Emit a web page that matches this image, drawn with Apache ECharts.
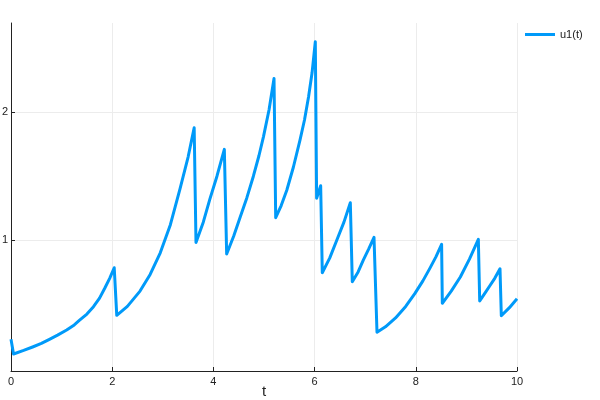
<!DOCTYPE html>
<html>
<head>
<meta charset="utf-8">
<script src="https://cdn.jsdelivr.net/npm/echarts@6/dist/echarts.min.js"></script>
<style>
    html, body { margin: 0; padding: 0; background: #fff; }
    #chart { width: 600px; height: 400px; }
</style>
</head>
<body>
<div id="chart"></div>
<script>

// Data
// ------------------------------

var seriesName = 'u1(t)';

var tValues = [
    0, 0.05, 0.25, 0.44, 0.60, 0.75, 0.92, 1.10, 1.25, 1.35, 1.50, 1.63, 1.75, 1.85, 1.95, 2.04,
    2.09, 2.30, 2.55, 2.75, 2.95, 3.15, 3.34, 3.50, 3.62,
    3.656, 3.80, 3.93, 4.07, 4.216,
    4.262, 4.40, 4.53, 4.66, 4.79, 4.90, 4.99, 5.10, 5.198,
    5.231, 5.34, 5.45, 5.58, 5.71, 5.80, 5.88, 5.95, 6.014,
    6.04, 6.12,
    6.152, 6.30, 6.44, 6.58, 6.706,
    6.745, 6.86, 6.96, 7.07, 7.174,
    7.233, 7.40, 7.60, 7.80, 7.98, 8.14, 8.28, 8.40, 8.51,
    8.524, 8.70, 8.88, 9.06, 9.236,
    9.263, 9.36, 9.46, 9.56, 9.664,
    9.69, 9.85, 10
];

var u1Values = [
    0.222, 0.107, 0.135, 0.164, 0.19, 0.22, 0.255, 0.295, 0.335, 0.37, 0.42, 0.478, 0.545, 0.62, 0.70, 0.783,
    0.41, 0.48, 0.60, 0.73, 0.90, 1.12, 1.40, 1.65, 1.88,
    0.98, 1.14, 1.32, 1.50, 1.71,
    0.89, 1.03, 1.18, 1.33, 1.50, 1.66, 1.81, 2.02, 2.266,
    1.175, 1.27, 1.39, 1.57, 1.78, 1.94, 2.12, 2.31, 2.553,
    1.327, 1.425,
    0.744, 0.86, 1.0, 1.14, 1.292,
    0.673, 0.75, 0.84, 0.93, 1.021,
    0.277, 0.32, 0.39, 0.48, 0.58, 0.68, 0.78, 0.87, 0.966,
    0.504, 0.60, 0.71, 0.85, 1.005,
    0.522, 0.58, 0.64, 0.70, 0.775,
    0.407, 0.47, 0.54
];

var xTicks = [0, 2, 4, 6, 8, 10];
var yTicks = [1, 2];


// Chart
// ------------------------------

var chartElement = document.getElementById('chart');
var chart = echarts.init(chartElement, null, { renderer: 'canvas' });

var points = tValues.map(function(t, i) {
    return [t, u1Values[i]];
});

chart.setOption({
    animation: false,
    color: ['#009af9'],
    textStyle: {
        fontFamily: 'Liberation Sans, Arial, sans-serif'
    },

    grid: {
        left: 11,
        right: 83,
        top: 23,
        bottom: 29,
        containLabel: false,
        outerBoundsMode: 'none'
    },

    legend: {
        data: [seriesName],
        left: 520,
        top: 24,
        icon: 'rect',
        itemWidth: 30,
        itemHeight: 3,
        itemGap: 5,
        textStyle: {
            fontSize: 11,
            color: '#222'
        }
    },

    xAxis: {
        type: 'value',
        min: 0,
        max: 10,
        interval: 2,
        name: 't',
        nameLocation: 'middle',
        nameGap: 13,
        nameMoveOverlap: false,
        nameTextStyle: {
            fontSize: 15,
            color: '#222'
        },
        axisLine: {
            show: true,
            onZero: false,
            lineStyle: { color: '#222', width: 1 }
        },
        axisTick: {
            show: true,
            inside: true,
            length: 4,
            lineStyle: { color: '#222' }
        },
        axisLabel: {
            fontSize: 11,
            color: '#222',
            margin: 5,
            customValues: xTicks
        },
        splitLine: {
            show: true,
            lineStyle: { color: '#ececec', width: 1 }
        }
    },

    yAxis: {
        type: 'value',
        min: -0.026,
        max: 2.70,
        axisLine: {
            show: true,
            onZero: false,
            lineStyle: { color: '#222', width: 1 }
        },
        axisTick: {
            show: true,
            inside: true,
            length: 4,
            lineStyle: { color: '#222' },
            customValues: yTicks
        },
        axisLabel: {
            fontSize: 11,
            color: '#222',
            margin: 3,
            customValues: yTicks
        },
        splitLine: {
            show: true,
            lineStyle: { color: '#ececec', width: 1 }
        }
    },

    series: [{
        name: seriesName,
        type: 'line',
        data: points,
        showSymbol: false,
        symbol: 'none',
        lineStyle: {
            width: 3,
            color: '#009af9',
            join: 'round'
        }
    }]
});

</script>
</body>
</html>
